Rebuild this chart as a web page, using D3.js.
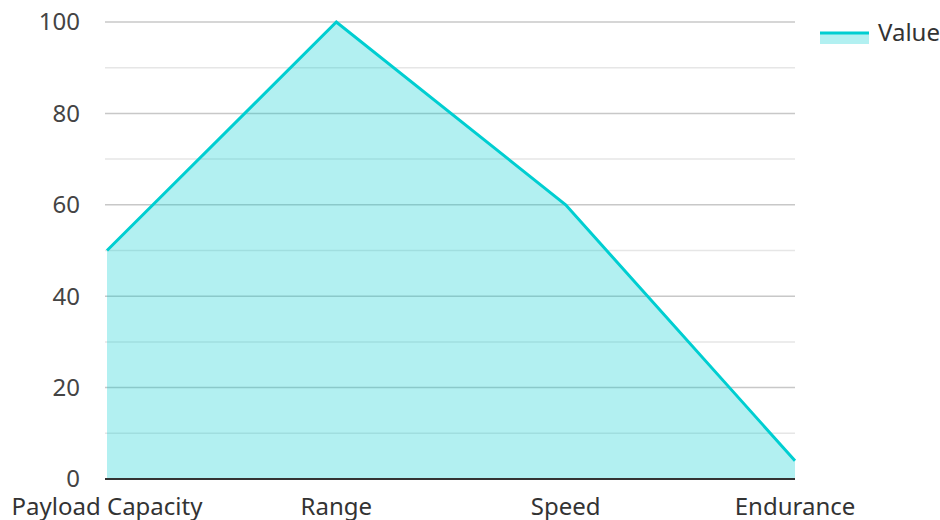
<!DOCTYPE html>
<html>
<head>
<meta charset="utf-8">
<script src="https://cdn.jsdelivr.net/npm/d3@7"></script>
<style>
  html, body { margin: 0; padding: 0; background: #fff; }
  svg { display: block; font-family: "Noto Sans", "Open Sans", sans-serif; }
</style>
</head>
<body>
<svg id="chart" width="940" height="520"></svg>
<script>
// Performance profile by attribute
const categories = ["Payload Capacity", "Range", "Speed", "Endurance"];
const values = [50, 100, 60, 4];
const majorTicks = [0, 20, 40, 60, 80, 100];
const minorTicks = [10, 30, 50, 70, 90];
const seriesName = "Value";

const lineColor = "#00CED1";
const fillColor = "rgba(0, 206, 209, 0.3)";

const svg = d3.select("#chart");
const plot = { left: 107, right: 795, top: 22, bottom: 479 };

const x = d3.scalePoint().domain(categories).range([plot.left, plot.right]);
const y = d3.scaleLinear().domain([0, 100]).range([plot.bottom, plot.top]);

// minor grid
svg.append("g").selectAll("line").data(minorTicks).join("line")
  .attr("x1", plot.left - 2).attr("x2", plot.right)
  .attr("y1", d => y(d)).attr("y2", d => y(d))
  .attr("stroke", "#e6e6e6").attr("stroke-width", 1.5);

// major grid
svg.append("g").selectAll("line").data(majorTicks.filter(d => d > 0)).join("line")
  .attr("x1", plot.left - 2).attr("x2", plot.right)
  .attr("y1", d => y(d)).attr("y2", d => y(d))
  .attr("stroke", "#c8c8c8").attr("stroke-width", 1.5);

const pts = categories.map((c, i) => [x(c), y(values[i])]);

// area
const area = d3.area().x(d => d[0]).y0(y(0)).y1(d => d[1]);
svg.append("path").datum(pts).attr("d", area).attr("fill", fillColor);

// line
svg.append("path").datum(pts)
  .attr("d", d3.line())
  .attr("fill", "none").attr("stroke", lineColor).attr("stroke-width", 3);

// x axis baseline
svg.append("line")
  .attr("x1", plot.left - 2).attr("x2", plot.right)
  .attr("y1", y(0)).attr("y2", y(0))
  .attr("stroke", "#333").attr("stroke-width", 2);

// y labels
svg.append("g").selectAll("text").data(majorTicks).join("text")
  .attr("x", 80).attr("y", d => y(d))
  .attr("dy", "0.35em")
  .attr("text-anchor", "end")
  .attr("font-size", 24).attr("fill", "#444")
  .text(d => d);

// x labels
svg.append("g").selectAll("text").data(categories).join("text")
  .attr("x", d => x(d)).attr("y", 515)
  .attr("text-anchor", "middle")
  .attr("font-size", 24).attr("fill", "#333")
  .text(d => d);

// legend
const lg = svg.append("g");
lg.append("rect").attr("x", 820).attr("y", 33).attr("width", 49).attr("height", 11).attr("fill", fillColor);
lg.append("line").attr("x1", 820).attr("x2", 869).attr("y1", 33).attr("y2", 33)
  .attr("stroke", lineColor).attr("stroke-width", 3);
lg.append("text").attr("x", 878).attr("y", 33).attr("dy", "0.35em")
  .attr("font-size", 24).attr("fill", "#333").text(seriesName);
</script>
</body>
</html>
